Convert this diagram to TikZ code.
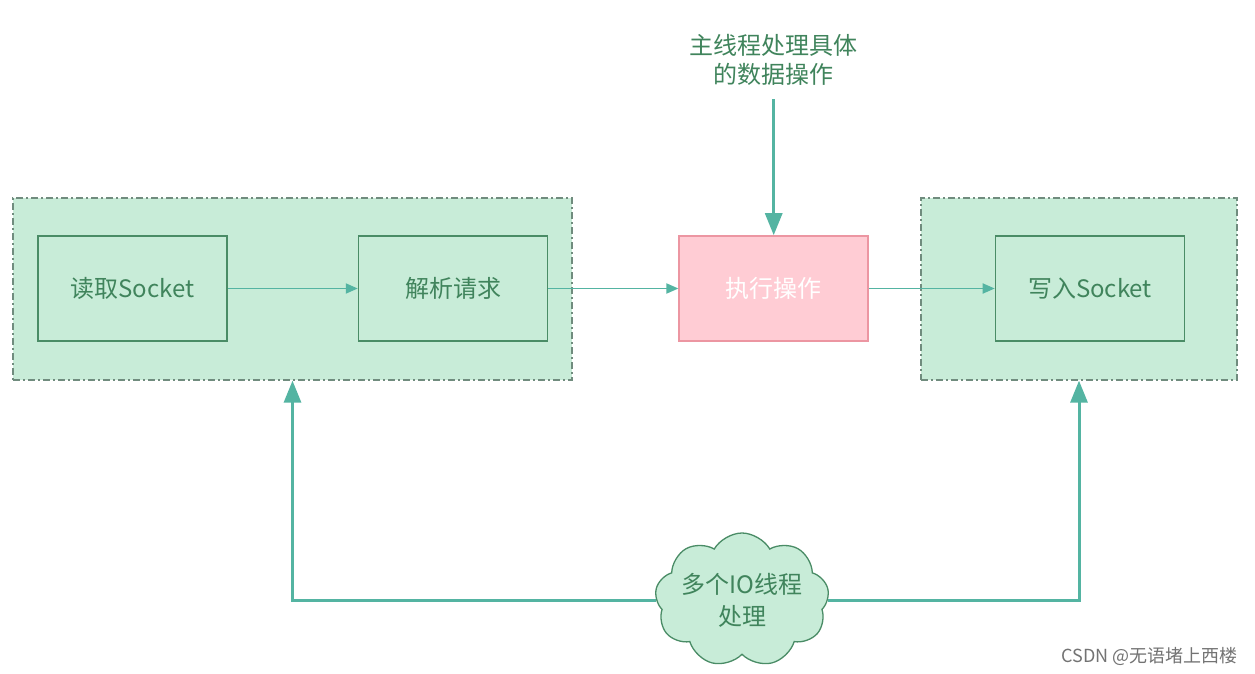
\documentclass[tikz,border=0pt]{standalone}
\usepackage{fontspec}
\setmainfont{Noto Sans CJK SC}
\usetikzlibrary{arrows.meta,shapes.symbols,positioning}
\definecolor{rgrpfill}{RGB}{200,236,216}
\definecolor{rgrpline}{RGB}{112,140,126}
\definecolor{rbox}{RGB}{74,140,102}
\definecolor{rtext}{RGB}{64,132,92}
\definecolor{rteal}{RGB}{84,180,162}
\definecolor{rpink}{RGB}{255,204,212}
\definecolor{rpinkline}{RGB}{236,150,162}

\begin{document}
\begin{tikzpicture}[x=1pt,y=-1pt,>={Triangle[width=10pt,length=12pt]},
  grp/.style={draw=rgrpline,fill=rgrpfill,line width=1.3pt,
    dash pattern=on 7pt off 3pt on 2pt off 3pt,
    minimum width=#1,minimum height=182pt,inner sep=0pt},
  box/.style={draw=rbox,fill=rgrpfill,line width=1.6pt,text=rtext,
    minimum width=189pt,minimum height=105pt,inner sep=0pt,
    font=\fontsize{24}{29}\selectfont},
  exec/.style={box,draw=rpinkline,fill=rpink,text=white},
  flow/.style={->,draw=rteal,line width=1.8pt},
  bold/.style={-{Triangle[width=17pt,length=22pt]},draw=rteal,line width=3pt},
  lbl/.style={text=rtext,align=center,font=\fontsize{24}{29}\selectfont},
  io/.style={cloud,cloud puffs=9,cloud puff arc=120,draw=rbox,fill=rgrpfill,
    line width=1.3pt,minimum width=174pt,minimum height=134pt,inner sep=-22pt,
    text=rtext,align=center,font=\fontsize{24}{32}\selectfont},
  wm/.style={text=black!55,font=\fontsize{18}{22}\selectfont}]
  \useasboundingbox[fill=white] (0,0) rectangle (1255,674);
  % thread groups
  \node[grp=559pt] (grpL) at (292.5,289) {};
  \node[grp=316pt] (grpR) at (1079,289) {};
  % steps
  \node[box] (read) at (132.5,288.5) {读取Socket};
  \node[box,right=130pt of read] (parse) {解析请求};
  \node[exec,right=130pt of parse] (run) {执行操作};
  \node[box] (write) at (1090,288.5) {写入Socket};
  \draw[flow] (read) -- (parse);
  \draw[flow] (parse) -- (run);
  \draw[flow] (run) -- (write);
  % main thread
  \node[lbl,above=146pt of run] (main) {主线程处理具体\\的数据操作};
  \draw[bold,shorten <=10pt] (main) -- (run);
  % io threads
  \node[io] (io) at (742,600) {多个IO线程\\处理};
  \draw[bold] (io.west) -| (grpL.south);
  \draw[bold] (io.east) -| (grpR.south);
  \node[wm,anchor=east] (mark) at (1241,656) {CSDN @无语堵上西楼};
\end{tikzpicture}
\end{document}
